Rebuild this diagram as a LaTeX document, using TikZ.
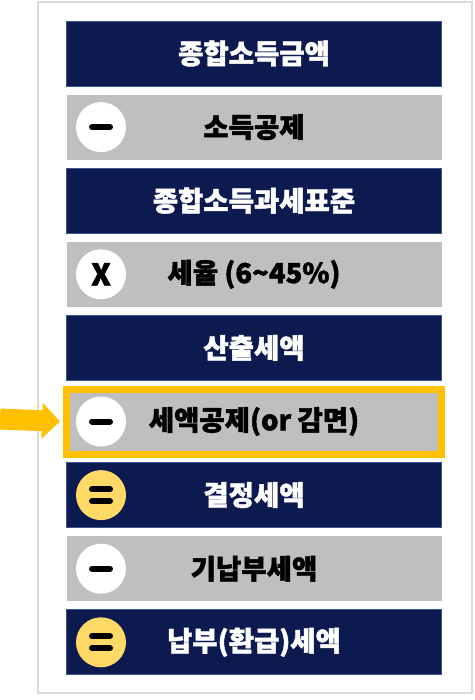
\documentclass[tikz,border=0pt]{standalone}
\usepackage{fontspec}
\setmainfont{Noto Sans CJK KR}[BoldFeatures={FakeBold=1.6}]
\usepackage{tikz}
\usetikzlibrary{positioning,arrows.meta}
\definecolor{navy}{HTML}{0C1A50}
\definecolor{navyedge}{HTML}{3A5590}
\definecolor{barGray}{HTML}{BFBFBF}
\definecolor{gold}{HTML}{FFC000}
\definecolor{signYellow}{HTML}{FFD966}
\definecolor{frameGray}{HTML}{DADADA}

\begin{document}
\begin{tikzpicture}[x=1pt,y=-1pt,
    bar/.style={minimum width=375pt,minimum height=65pt,inner sep=0pt,outer sep=0pt,
      font=\fontsize{27.5}{30}\selectfont\bfseries},
    navybar/.style={bar,fill=navy,draw=navyedge,line width=0.8pt,text=white},
    graybar/.style={bar,fill=barGray,text=black},
    sign/.style={circle,minimum size=50pt,inner sep=0pt,outer sep=0pt,fill=white},
    yellowsign/.style={sign,fill=signYellow},
    stroke/.style={line width=6pt,line cap=round,black},
    node distance=8.6pt]
  \useasboundingbox (0,0) rectangle (474,700);
  % outer frame
  \draw[frameGray,line width=1.6pt,fill=white] (38,2) rectangle (472,693);

  % the steps
  \node[navybar] (r1) at (254,53.5) {종합소득금액};
  \node[graybar, below=of r1] (r2) {소득공제};
  \node[navybar, below=of r2] (r3) {종합소득과세표준};
  \node[graybar, below=of r3] (r4) {세율 (6\textasciitilde45\%)};
  \node[navybar, below=of r4] (r5) {산출세액};
  \node[graybar, draw=gold, line width=7pt, below=of r5] (r6) {세액공제(or 감면)};
  \node[navybar, below=of r6] (r7) {결정세액};
  \node[graybar, below=of r7] (r8) {기납부세액};
  \node[navybar, below=of r8] (r9) {납부(환급)세액};

  % signs
  \node[sign, right=9.5pt of r2.west] (s2) {};
  \draw[stroke] ([xshift=-9pt]s2.center) -- ([xshift=9pt]s2.center);
  \node[sign, right=9.5pt of r4.west, font=\fontsize{30}{32}\selectfont\bfseries] (s4) {X};
  \node[sign, right=9.5pt of r6.west] (s6) {};
  \draw[stroke] ([xshift=-9pt]s6.center) -- ([xshift=9pt]s6.center);
  \node[yellowsign, right=9.5pt of r7.west] (s7) {};
  \draw[stroke] ([xshift=-9pt,yshift=-6pt]s7.center) -- ([xshift=9pt,yshift=-6pt]s7.center);
  \draw[stroke] ([xshift=-9pt,yshift=6pt]s7.center) -- ([xshift=9pt,yshift=6pt]s7.center);
  \node[sign, right=9.5pt of r8.west] (s8) {};
  \draw[stroke] ([xshift=-9pt]s8.center) -- ([xshift=9pt]s8.center);
  \node[yellowsign, right=9.5pt of r9.west] (s9) {};
  \draw[stroke] ([xshift=-9pt,yshift=-6pt]s9.center) -- ([xshift=9pt,yshift=-6pt]s9.center);
  \draw[stroke] ([xshift=-9pt,yshift=6pt]s9.center) -- ([xshift=9pt,yshift=6pt]s9.center);

  % pointer to the highlighted step
  \coordinate (start) at (0,419);
  \coordinate[left=6.5pt of r6.west] (tip);
  \draw[gold, line width=21pt, -{Triangle[length=18pt,width=35pt]}] (start) -- (tip);
\end{tikzpicture}
\end{document}
